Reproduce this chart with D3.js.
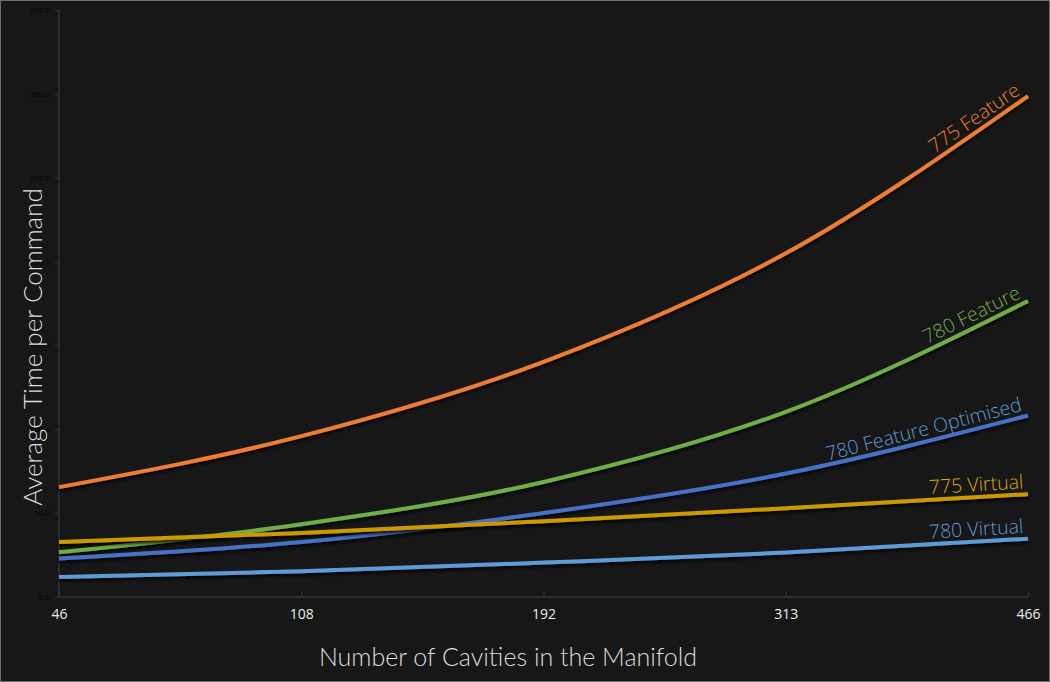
<!DOCTYPE html>
<html>
<head>
<meta charset="utf-8">
<script src="https://cdn.jsdelivr.net/npm/d3@7"></script>
<style>
  html, body { margin: 0; padding: 0; background: #171717; }
  svg { display: block; }
  .y-axis text { font-family: "Open Sans", sans-serif; font-size: 8px; fill: #050505; }
  .x-axis text { font-family: "Open Sans", sans-serif; font-size: 14px; fill: #ececec; }
  .axis-title { font-family: Lato, "Open Sans", sans-serif; font-weight: 300; fill: #dcdcdc; }
  .series-label { font-family: "Open Sans", sans-serif; font-weight: 300; font-size: 19.5px; }
</style>
</head>
<body>
<svg id="chart" width="1050" height="682"></svg>
<script>
const categories = ['46', '108', '192', '313', '466'];
const yTicks = [0, 50, 100, 150, 200, 250, 300, 350];

const feature775 = [65.5, 95.9, 140.2, 204.9, 298.7];
const feature780 = [26.7, 43.4, 68.6, 110.4, 176.5];
const optimised780 = [22.9, 32.8, 50.1, 73.6, 108.2];
const virtual775 = [32.8, 38.2, 45.2, 52.9, 61.3];
const virtual780 = [11.9, 15.3, 20.5, 26.5, 34.8];

const seriesNames = ['775 Feature', '780 Feature', '780 Feature Optimised', '775 Virtual', '780 Virtual'];
const seriesValues = [feature775, feature780, optimised780, virtual775, virtual780];
const lineColors = ['#ed7d31', '#70ad47', '#4472c4', '#cc9a06', '#5b9bd5'];
const labelColors = ['#ed7d31', '#70ad47', '#5b9bd5', '#dca60a', '#5b9bd5'];

const width = 1050;
const height = 682;
const margin = { top: 10, right: 22, bottom: 85, left: 59 };
const innerWidth = width - margin.left - margin.right;
const innerHeight = height - margin.top - margin.bottom;

const svg = d3.select('#chart');

// frame round the picture
svg.append('rect')
  .attr('x', 0.5).attr('y', 0.5)
  .attr('width', width - 1).attr('height', height - 1)
  .attr('fill', '#171717')
  .attr('stroke', '#6e6e6e');

// soft dark shadow under each line
const filter = svg.append('defs').append('filter')
  .attr('id', 'lineShadow')
  .attr('x', '-5%').attr('y', '-20%')
  .attr('width', '110%').attr('height', '140%');
filter.append('feDropShadow')
  .attr('dx', 0).attr('dy', 2.5)
  .attr('stdDeviation', 1.8)
  .attr('flood-color', '#000')
  .attr('flood-opacity', 0.9);

const chart = svg.append('g')
  .attr('transform', `translate(${margin.left}, ${margin.top})`);

const x = d3.scalePoint().domain(categories).range([0, innerWidth]);
const y = d3.scaleLinear().domain([0, 350]).range([innerHeight, 0]);

const yAxis = chart.append('g')
  .attr('class', 'y-axis')
  .call(d3.axisLeft(y).tickValues(yTicks).tickSize(4).tickPadding(5).tickFormat(d3.format('.1f')));

const xAxis = chart.append('g')
  .attr('class', 'x-axis')
  .attr('transform', `translate(0, ${innerHeight})`)
  .call(d3.axisBottom(x).tickSize(-5).tickPadding(12));

[yAxis, xAxis].forEach((axis) => {
  axis.select('.domain').attr('stroke', '#333333').attr('stroke-width', 1.5);
  axis.selectAll('.tick line').attr('stroke', '#333333').attr('stroke-width', 1.2);
});
xAxis.select('.domain').attr('d', `M0,0H${innerWidth}`);
yAxis.select('.domain').attr('d', `M0,${innerHeight}V0`);
xAxis.selectAll('.tick text').attr('dy', '0.71em');

const line = d3.line()
  .x((d, i) => x(categories[i]))
  .y((d) => y(d))
  .curve(d3.curveMonotoneX);

seriesValues.forEach((values, i) => {
  const path = chart.append('path')
    .datum(values)
    .attr('fill', 'none')
    .attr('stroke', lineColors[i])
    .attr('stroke-width', 4)
    .attr('filter', 'url(#lineShadow)')
    .attr('d', line);

  // label sits on the end of the line, turned along its slope
  const node = path.node();
  const total = node.getTotalLength();
  const end = node.getPointAtLength(total - 4);
  const back = node.getPointAtLength(Math.max(total - 90, 0));
  const angle = Math.atan2(end.y - back.y, end.x - back.x) * 180 / Math.PI;

  chart.append('text')
    .attr('class', 'series-label')
    .attr('transform', `translate(${end.x}, ${end.y}) rotate(${angle})`)
    .attr('text-anchor', 'end')
    .attr('dy', -6)
    .attr('fill', labelColors[i])
    .text(seriesNames[i]);
});

svg.append('text')
  .attr('class', 'axis-title')
  .attr('transform', `translate(42, 347) rotate(-90)`)
  .attr('text-anchor', 'middle')
  .attr('font-size', 26)
  .text('Average Time per Command');

svg.append('text')
  .attr('class', 'axis-title')
  .attr('x', 508)
  .attr('y', 666)
  .attr('text-anchor', 'middle')
  .attr('font-size', 25)
  .text('Number of Cavities in the Manifold');
</script>
</body>
</html>
